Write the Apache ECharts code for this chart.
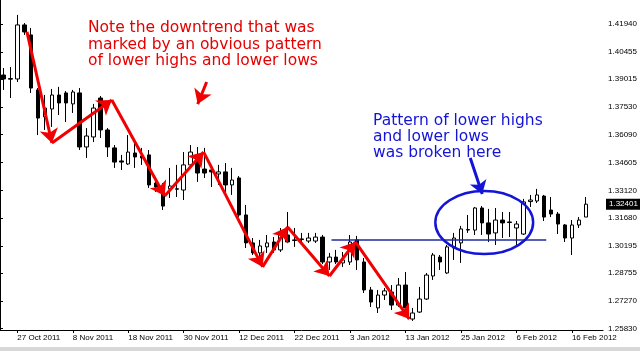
<!DOCTYPE html>
<html>
<head>
<meta charset="utf-8">
<script src="https://cdn.jsdelivr.net/npm/echarts@6/dist/echarts.min.js"></script>
<style>
	html, body { margin: 0; padding: 0; background: #fff; }
	#chart { width: 640px; height: 351px; }
</style>
</head>
<body>
<div id="chart"></div>
<script>
// 日期 (每根K线一个, 最后两个是右侧空位)
let dates = [
	'25 Oct 2011', '26 Oct 2011', '27 Oct 2011', '28 Oct 2011', '31 Oct 2011',
	'1 Nov 2011', '2 Nov 2011', '3 Nov 2011', '4 Nov 2011', '7 Nov 2011', '8 Nov 2011', '9 Nov 2011', '10 Nov 2011', '11 Nov 2011',
	'14 Nov 2011', '15 Nov 2011', '16 Nov 2011', '17 Nov 2011', '18 Nov 2011', '21 Nov 2011', '22 Nov 2011', '23 Nov 2011', '24 Nov 2011',
	'25 Nov 2011', '28 Nov 2011', '29 Nov 2011', '30 Nov 2011', '1 Dec 2011', '2 Dec 2011', '5 Dec 2011', '6 Dec 2011', '7 Dec 2011',
	'8 Dec 2011', '9 Dec 2011', '12 Dec 2011', '13 Dec 2011', '14 Dec 2011', '15 Dec 2011', '16 Dec 2011', '19 Dec 2011', '20 Dec 2011',
	'21 Dec 2011', '22 Dec 2011', '23 Dec 2011', '26 Dec 2011', '27 Dec 2011', '28 Dec 2011', '29 Dec 2011', '30 Dec 2011',
	'2 Jan 2012', '3 Jan 2012', '4 Jan 2012', '5 Jan 2012', '6 Jan 2012', '9 Jan 2012', '10 Jan 2012', '11 Jan 2012', '12 Jan 2012',
	'13 Jan 2012', '16 Jan 2012', '17 Jan 2012', '18 Jan 2012', '19 Jan 2012', '20 Jan 2012', '23 Jan 2012', '24 Jan 2012', '25 Jan 2012',
	'26 Jan 2012', '27 Jan 2012', '30 Jan 2012', '31 Jan 2012', '1 Feb 2012', '2 Feb 2012', '3 Feb 2012', '6 Feb 2012', '7 Feb 2012',
	'8 Feb 2012', '9 Feb 2012', '10 Feb 2012', '13 Feb 2012', '14 Feb 2012', '15 Feb 2012', '16 Feb 2012', '17 Feb 2012', '20 Feb 2012',
	'21 Feb 2012', '22 Feb 2012',
];
// 底部显示的日期
let tick_dates = ['27 Oct 2011', '8 Nov 2011', '18 Nov 2011', '30 Nov 2011', '12 Dec 2011', '22 Dec 2011', '3 Jan 2012', '13 Jan 2012', '25 Jan 2012', '6 Feb 2012', '16 Feb 2012'];
// 右侧价格刻度
let y_ticks = [1.2583, 1.2727, 1.28755, 1.30195, 1.3168, 1.3312, 1.34605, 1.3609, 1.3753, 1.39015, 1.40455, 1.4194];
let last_price = 1.32401;
// [开, 收, 低, 高]
let prices = [
	[1.3924, 1.3903, 1.3845, 1.3961], [1.3905, 1.3902, 1.3802, 1.3966], [1.3903, 1.4189, 1.3887, 1.4242], [1.4189, 1.4152, 1.4136, 1.4199],
	[1.4136, 1.3855, 1.3829, 1.4173], [1.3845, 1.3696, 1.3606, 1.3855], [1.3702, 1.3749, 1.3633, 1.3818], [1.3744, 1.3818, 1.3649, 1.385],
	[1.3818, 1.3776, 1.3712, 1.3861], [1.3829, 1.3776, 1.3675, 1.3839], [1.3771, 1.3834, 1.3723, 1.3845], [1.3829, 1.3543, 1.3527, 1.3855],
	[1.3543, 1.3601, 1.3485, 1.3643], [1.3596, 1.3749, 1.3569, 1.3771], [1.3802, 1.3633, 1.3591, 1.3813], [1.3633, 1.3543, 1.349, 1.3643],
	[1.3538, 1.3463, 1.3432, 1.3553], [1.3469, 1.3463, 1.3421, 1.3501], [1.3453, 1.3516, 1.3448, 1.3606], [1.3511, 1.349, 1.3432, 1.3564],
	[1.3495, 1.3485, 1.3448, 1.3538], [1.3501, 1.3342, 1.3326, 1.3527], [1.3352, 1.3331, 1.3305, 1.3379], [1.3315, 1.323, 1.3209, 1.3352],
	[1.3321, 1.3336, 1.3273, 1.3432], [1.3319, 1.3322, 1.3278, 1.3448], [1.3315, 1.3448, 1.3262, 1.3516], [1.3448, 1.3516, 1.3432, 1.3553],
	[1.349, 1.3405, 1.3358, 1.3543], [1.3426, 1.3405, 1.3379, 1.3538], [1.3421, 1.3411, 1.3331, 1.3448], [1.34, 1.3411, 1.3342, 1.3448],
	[1.3411, 1.3342, 1.3305, 1.3458], [1.3342, 1.3368, 1.3289, 1.3432], [1.3379, 1.3183, 1.3172, 1.3389], [1.3183, 1.3035, 1.3008, 1.3236],
	[1.3035, 1.2982, 1.2971, 1.3061], [1.2982, 1.3019, 1.2955, 1.3051], [1.3014, 1.3035, 1.2982, 1.3077], [1.304, 1.2998, 1.2982, 1.3066],
	[1.2998, 1.3077, 1.2987, 1.3114], [1.3077, 1.304, 1.3035, 1.3199], [1.3051, 1.3048, 1.3014, 1.3114], [1.3056, 1.3053, 1.3024, 1.3088],
	[1.3045, 1.3061, 1.3035, 1.3088], [1.3045, 1.3066, 1.3035, 1.3088], [1.3066, 1.2934, 1.2923, 1.3077], [1.2934, 1.296, 1.2892, 1.2982],
	[1.296, 1.2934, 1.2923, 1.2998], [1.2929, 1.2945, 1.2908, 1.2987], [1.2934, 1.304, 1.2918, 1.3077], [1.3051, 1.2945, 1.2892, 1.3072],
	[1.2934, 1.2786, 1.277, 1.2955], [1.2786, 1.2722, 1.2696, 1.2802], [1.2691, 1.2759, 1.2664, 1.2786], [1.2759, 1.2781, 1.2733, 1.2796],
	[1.2775, 1.2706, 1.268, 1.2812], [1.2706, 1.2812, 1.2696, 1.2849], [1.2812, 1.2691, 1.2669, 1.2881], [1.2632, 1.2664, 1.2622, 1.2691],
	[1.2669, 1.2738, 1.2664, 1.2802], [1.2738, 1.2865, 1.2733, 1.2876], [1.286, 1.2971, 1.2839, 1.2982], [1.296, 1.2934, 1.2892, 1.2971],
	[1.2876, 1.3014, 1.2871, 1.3024], [1.3008, 1.3061, 1.2945, 1.3088], [1.3035, 1.3109, 1.2929, 1.3125], [1.3103, 1.3106, 1.3088, 1.3183],
	[1.3103, 1.322, 1.3077, 1.3225], [1.322, 1.3141, 1.3077, 1.323], [1.3141, 1.3082, 1.304, 1.3215], [1.3088, 1.3156, 1.3024, 1.322],
	[1.3156, 1.3141, 1.3061, 1.3199], [1.3146, 1.3143, 1.3066, 1.3199], [1.3114, 1.3135, 1.3024, 1.3151], [1.3082, 1.3252, 1.3077, 1.3268],
	[1.3254, 1.3262, 1.3225, 1.3289], [1.3257, 1.3289, 1.3246, 1.3321], [1.3283, 1.3172, 1.3151, 1.3289], [1.3209, 1.3188, 1.3172, 1.3278],
	[1.3188, 1.3135, 1.3082, 1.3199], [1.313, 1.3061, 1.304, 1.3135], [1.3061, 1.313, 1.2971, 1.3156], [1.313, 1.3156, 1.3114, 1.3172],
	[1.3172, 1.32401, 1.3172, 1.3278],
];
// 标注 (x 为K线序号位置, y 为价格)
let red_path = [[3.89, 1.4152], [7.49, 1.3564], [16.13, 1.3792], [23.76, 1.3283], [29.38, 1.3516], [37.88, 1.2908], [41.48, 1.3119], [47.53, 1.286], [51.27, 1.304], [59.05, 1.2632]];
let red_pointer = [[29.81, 1.3887], [28.52, 1.377]];
let blue_pointer = [[67.84, 1.3485], [69.57, 1.3294]];
let blue_level = [[47.82, 1.3051], [78.8, 1.3051]];
let blue_ring = [[62.8, 1.331], [76.91, 1.2976]];

let font = 'Liberation Sans';
let red = '#f00000';
let blue = '#1414d8';

let chart = echarts.init(document.getElementById('chart'));
let show_tick = (i) => tick_dates.includes(dates[i]);

let red_segments = [];
for (let i = 1; i < red_path.length; i++) {
	red_segments.push({ coords: [red_path[i - 1], red_path[i]] });
}
red_segments.push({ coords: red_pointer });

let option = {
	animation: false,
	grid: { left: 0, right: 36, top: 0, bottom: 21 },
	xAxis: [
		{
			type: 'category',
			data: dates,
			boundaryGap: true,
			axisLine: { show: true, lineStyle: { color: '#000', width: 1 } },
			axisTick: { show: true, alignWithLabel: true, interval: show_tick, length: 3, lineStyle: { color: '#000' } },
			axisLabel: { interval: show_tick, align: 'left', margin: 4, fontSize: 8, fontFamily: font, color: '#000' },
			splitLine: { show: false },
		},
		{ type: 'value', min: 0, max: dates.length, show: false },
	],
	yAxis: {
		type: 'value',
		position: 'right',
		min: 1.2574,
		max: 1.4321,
		splitLine: { show: false },
		axisLine: { show: true, lineStyle: { color: '#000', width: 1 } },
		axisTick: { show: true, length: 3, customValues: y_ticks, lineStyle: { color: '#000' } },
		axisLabel: {
			customValues: y_ticks,
			formatter: (v) => v.toFixed(5),
			margin: 5,
			fontSize: 8,
			fontFamily: font,
			color: '#000',
		},
	},
	series: [
		{
			type: 'candlestick',
			data: prices,
			barWidth: 4,
			itemStyle: { color: '#fff', color0: '#000', borderColor: '#000', borderColor0: '#000', borderWidth: 1 },
		},
		{
			type: 'lines',
			coordinateSystem: 'cartesian2d',
			xAxisIndex: 1,
			yAxisIndex: 0,
			symbol: ['none', 'arrow'],
			symbolSize: [12, 14],
			lineStyle: { color: red, width: 3, opacity: 1 },
			data: red_segments,
			z: 5,
		},
		{
			type: 'lines',
			coordinateSystem: 'cartesian2d',
			xAxisIndex: 1,
			yAxisIndex: 0,
			symbol: ['none', 'arrow'],
			symbolSize: [11, 13],
			lineStyle: { color: blue, width: 3, opacity: 1 },
			data: [{ coords: blue_pointer }],
			z: 5,
		},
		{
			type: 'lines',
			coordinateSystem: 'cartesian2d',
			xAxisIndex: 1,
			yAxisIndex: 0,
			symbol: 'none',
			lineStyle: { color: '#1c2a9c', width: 1.5, opacity: 1 },
			data: [{ coords: blue_level }],
			z: 4,
		},
	],
};
chart.setOption(option);

// 椭圆, 当前价格框和文字
let p1 = chart.convertToPixel({ xAxisIndex: 1, yAxisIndex: 0 }, blue_ring[0]);
let p2 = chart.convertToPixel({ xAxisIndex: 1, yAxisIndex: 0 }, blue_ring[1]);
let price_y = chart.convertToPixel({ yAxisIndex: 0 }, last_price);
chart.setOption({
	graphic: [
		{
			type: 'ellipse',
			shape: { cx: (p1[0] + p2[0]) / 2, cy: (p1[1] + p2[1]) / 2, rx: Math.abs(p2[0] - p1[0]) / 2, ry: Math.abs(p2[1] - p1[1]) / 2 },
			style: { fill: null, stroke: blue, lineWidth: 2.5 },
			z: 10,
		},
		{
			type: 'text',
			x: 606,
			y: price_y,
			style: {
				text: last_price.toFixed(5),
				fill: '#fff',
				backgroundColor: '#000',
				padding: [2, 3, 1, 3],
				fontSize: 8,
				fontFamily: font,
				verticalAlign: 'middle',
			},
			z: 10,
		},
		{
			type: 'text',
			x: 88,
			y: 20,
			style: {
				text: 'Note the downtrend that was\nmarked by an obvious pattern\nof lower highs and lower lows',
				fill: '#e60000',
				fontSize: 15.5,
				fontFamily: 'DejaVu Sans',
				lineHeight: 16.5,
				verticalAlign: 'top',
			},
			z: 10,
		},
		{
			type: 'text',
			x: 373,
			y: 113,
			style: {
				text: 'Pattern of lower highs\nand lower lows\nwas broken here',
				fill: blue,
				fontSize: 15.5,
				fontFamily: 'DejaVu Sans',
				lineHeight: 16,
				verticalAlign: 'top',
			},
			z: 10,
		},
		{
			type: 'rect',
			shape: { x: 0, y: 347, width: 640, height: 4 },
			style: { fill: '#d8d8d8' },
			z: 10,
		},
	],
});
</script>
</body>
</html>
